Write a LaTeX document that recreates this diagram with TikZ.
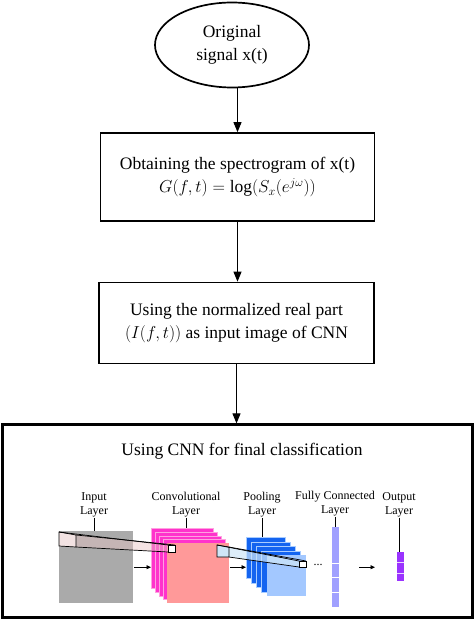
\documentclass[tikz,border=0pt]{standalone}
\usepackage{fontspec}
\setmainfont{Liberation Serif}
\usetikzlibrary{arrows.meta,shapes.geometric,calc}
\definecolor{grayin}{HTML}{AAAAAA}
\definecolor{magl}{HTML}{FF33CC}
\definecolor{mage}{HTML}{FFA0E0}
\definecolor{salmon}{HTML}{FF9999}
\definecolor{bluel}{HTML}{1464F0}
\definecolor{bluee}{HTML}{A8CCFF}
\definecolor{bluef}{HTML}{A3C8FF}
\definecolor{fcc}{HTML}{A0A0FF}
\definecolor{outc}{HTML}{9A33FF}
\definecolor{filt1}{RGB}{231,195,195}
\definecolor{filt1f}{HTML}{F2E2E2}
\definecolor{filt2}{HTML}{CFE6F7}
\begin{document}
\begin{tikzpicture}[x=1pt,y=-1pt,
  bigtext/.style={font=\fontsize{17.5}{23}\selectfont,align=center},
  flowbox/.style={draw,line width=1.7pt,rectangle,bigtext,inner sep=0pt},
  flowarrow/.style={line width=1pt,-{Triangle[length=10pt,width=8pt]}},
  lab/.style={font=\fontsize{12}{14}\selectfont,align=center,inner sep=0.5pt},
  labline/.style={line width=0.7pt},
  smallarrow/.style={line width=0.9pt,-{Triangle[length=4.5pt,width=4pt]}},
  sq/.style={rectangle,inner sep=0pt,anchor=north west},
  convback/.style={sq,fill=magl,draw=mage,line width=0.6pt,minimum width=62pt,minimum height=60pt},
  poolback/.style={sq,fill=bluel,draw=bluee,line width=0.6pt,minimum width=39pt,minimum height=41pt},
  filtline/.style={line width=0.7pt,draw=black}
]
\useasboundingbox (0,0) rectangle (474,620);
\fill[white] (0,0) rectangle (474,620);

% flow chart
\node[draw,ellipse,line width=1.7pt,minimum width=154pt,minimum height=85pt,bigtext,inner sep=0pt] (orig) at (232,45) {Original\\signal x(t)};
\node[flowbox,minimum width=274pt,minimum height=88pt] (spec) at (237.5,177) {Obtaining the spectrogram of x(t)\\$G(f,t)=\log(S_x(e^{j\omega}))$};
\node[flowbox,minimum width=275pt,minimum height=81pt] (norm) at (236.5,323) {Using the normalized real part\\$(I(f,t))$ as input image of CNN};
\node[draw,rectangle,line width=2.2pt,minimum width=470pt,minimum height=193pt,inner sep=0pt] (cnn) at (237.5,521) {};
\node[bigtext] (title) at (242,451) {Using CNN for final classification};

\draw[flowarrow] (spec.north |- orig.south) -- (spec.north);
\draw[flowarrow] (spec.south) -- (spec.south |- norm.north);
\draw[flowarrow] (norm.south) -- (norm.south |- cnn.north);

% input layer
\node[sq,fill=grayin,minimum width=74pt,minimum height=72pt] (inp) at (59,531) {};

% conv layer
\foreach \i in {0,1,2,3} {
  \node[convback] (conv\i) at (151+4*\i,528+3.75*\i) {};
}
\node[sq,fill=salmon,minimum width=62pt,minimum height=60pt] (convF) at (167,543) {};

% pooling layer
\foreach \i in {0,1,2,3} {
  \node[poolback] (pool\i) at (246+5*\i,537+4.5*\i) {};
}
\node[sq,fill=bluef,minimum width=39pt,minimum height=41pt] (poolF) at (267,555) {};

% filter 1 (input -> conv)
\fill[filt1,fill opacity=0.45] (59,532) -- (168,545) -- (175,545) -- (175,552) -- (168,552) -- (76,547) -- (76,535) -- cycle;
\filldraw[fill=filt1f,filtline] (59,532) -- (76,535) -- (76,547) -- (59,546) -- cycle;
\draw[filtline] (59,532) -- (168,545);
\draw[filtline] (76,535) -- (175,545);
\draw[filtline] (76,547) -- (168,552);
\filldraw[fill=white,filtline] (168,545) rectangle (175,552);

% filter 2 (conv -> pool)
\fill[filt2,fill opacity=0.7] (217,545) -- (299,561) -- (306,561) -- (306,567) -- (299,567) -- (229,557) -- (229,547) -- cycle;
\filldraw[fill=filt2,filtline] (217,545) -- (229,547) -- (229,557) -- (217,557) -- cycle;
\draw[filtline] (217,545) -- (299,561);
\draw[filtline] (229,547) -- (306,561);
\draw[filtline] (229,557) -- (299,567);
\filldraw[fill=white,filtline] (299,561) rectangle (306,567);

% fully connected and output
\node[sq,fill=fcc,minimum width=7pt,minimum height=80pt] (fc) at (332,527) {};
\foreach \yy in {563,577,592} \draw[white,line width=0.4pt] (332,\yy) -- (339,\yy);
\node[sq,fill=outc,minimum width=7pt,minimum height=29pt] (out) at (397,552) {};
\foreach \yy in {562,573} \draw[white!80!outc,line width=0.4pt] (397,\yy) -- (404,\yy);

\node[lab] (dots) at (318,565) {...};

% arrows
\draw[smallarrow] (inp.east) ++(1,0) coordinate (a1s) -- (a1s -| conv0.west);
\draw[smallarrow] (convF.east |- inp.east) ++(1,0) coordinate (a2s) -- (a2s -| pool0.west);
\draw[smallarrow,shorten <=20pt,shorten >=22pt] (fc.east) -- (fc.east -| out.west);

% labels
\node[lab] (linp) at (94,505) {Input\\Layer};
\node[lab] (lconv) at (186,505) {Convolutional\\Layer};
\node[lab] (lpool) at (262,505) {Pooling\\Layer};
\node[lab] (lfc) at (335,504) {Fully Connected\\Layer};
\node[lab] (lout) at (399,505) {Output\\Layer};

\draw[labline] (linp.south) -- (linp.south |- inp.north);
\draw[labline] (lconv.south) -- (lconv.south |- conv0.north);
\draw[labline] (lpool.south) -- (lpool.south |- pool0.north);
\draw[labline] (lfc.south) -- (lfc.south |- fc.north);
\draw[labline] (lout.south) -- (lout.south |- out.north);
\end{tikzpicture}
\end{document}
